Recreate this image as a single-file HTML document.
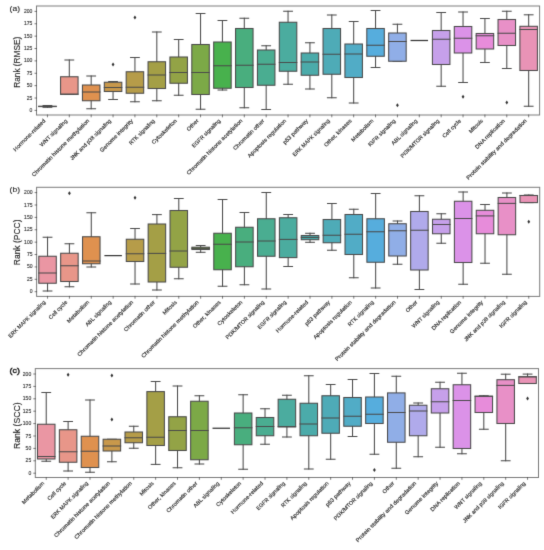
<!DOCTYPE html>
<html><head><meta charset="utf-8"><style>
html,body{margin:0;padding:0;background:#fff;}
body{width:544px;height:550px;overflow:hidden;}
svg{display:block;will-change:transform;font-family:"Liberation Sans",sans-serif;}
.yt{font-size:6.0px;text-anchor:end;fill:#2a2a2a;stroke:#2a2a2a;stroke-width:0.12px;}
.xl{font-size:5.5px;text-anchor:end;fill:#262626;stroke:#262626;stroke-width:0.15px;}
.yl{font-size:8.2px;text-anchor:middle;fill:#1a1a1a;stroke:#1a1a1a;stroke-width:0.12px;}
.pl{font-size:7.8px;fill:#1a1a1a;stroke:#1a1a1a;stroke-width:0.1px;}
g{stroke:#4a4a4a;stroke-width:1.05;stroke-linecap:square;}
</style></head><body>
<svg width="544" height="550" viewBox="0 0 544 550">
<defs><filter id="bl" x="-10" y="-10" width="564" height="570" filterUnits="userSpaceOnUse" color-interpolation-filters="sRGB"><feConvolveMatrix order="3" kernelMatrix="0.0113 0.0838 0.0113 0.0838 0.6193 0.0838 0.0113 0.0838 0.0113" edgeMode="duplicate"/></filter></defs>
<rect width="544" height="550" fill="#fff"/>
<g filter="url(#bl)">
<g><line x1="47.44" y1="105.5" x2="47.44" y2="106.3" /><line x1="43.06" y1="105.5" x2="51.81" y2="105.5" /><line x1="47.44" y1="106.5" x2="47.44" y2="107.3" /><line x1="43.06" y1="107.3" x2="51.81" y2="107.3" /><rect x="38.69" y="106.3" width="17.5" height="0.3" fill="#ea96a3" /><line x1="38.69" y1="106.4" x2="56.19" y2="106.4" /></g>
<g><line x1="69.31" y1="60" x2="69.31" y2="76.75" /><line x1="64.94" y1="60" x2="73.69" y2="60" /><line x1="64.94" y1="94.25" x2="73.69" y2="94.25" /><rect x="60.56" y="76.75" width="17.5" height="17.5" fill="#e89689" /><line x1="60.56" y1="94.25" x2="78.06" y2="94.25" /></g>
<g><line x1="91.18" y1="76" x2="91.18" y2="85" /><line x1="86.81" y1="76" x2="95.56" y2="76" /><line x1="91.18" y1="100.75" x2="91.18" y2="108.75" /><line x1="86.81" y1="108.75" x2="95.56" y2="108.75" /><rect x="82.44" y="85" width="17.5" height="15.75" fill="#df914f" /><line x1="82.44" y1="92" x2="99.93" y2="92" /></g>
<g><line x1="113.06" y1="81.5" x2="113.06" y2="82.25" /><line x1="108.68" y1="81.5" x2="117.43" y2="81.5" /><line x1="113.06" y1="91.5" x2="113.06" y2="99.5" /><line x1="108.68" y1="99.5" x2="117.43" y2="99.5" /><rect x="104.31" y="82.25" width="17.5" height="9.25" fill="#c8984b" /><line x1="104.31" y1="87.5" x2="121.81" y2="87.5" /><path d="M113.06 62.5L114.46 64.5L113.06 66.5L111.66 64.5Z" fill="#333" stroke="none"/></g>
<g><line x1="134.93" y1="57.5" x2="134.93" y2="71.75" /><line x1="130.56" y1="57.5" x2="139.31" y2="57.5" /><line x1="134.93" y1="93.25" x2="134.93" y2="101.75" /><line x1="130.56" y1="101.75" x2="139.31" y2="101.75" /><rect x="126.18" y="71.75" width="17.5" height="21.5" fill="#b69c49" /><line x1="126.18" y1="87.25" x2="143.68" y2="87.25" /><path d="M134.93 15.5L136.33 17.5L134.93 19.5L133.53 17.5Z" fill="#333" stroke="none"/></g>
<g><line x1="156.81" y1="32" x2="156.81" y2="61.75" /><line x1="152.43" y1="32" x2="161.18" y2="32" /><line x1="156.81" y1="88.5" x2="156.81" y2="100.75" /><line x1="152.43" y1="100.75" x2="161.18" y2="100.75" /><rect x="148.06" y="61.75" width="17.5" height="26.75" fill="#a49f46" /><line x1="148.06" y1="75" x2="165.56" y2="75" /></g>
<g><line x1="178.68" y1="39.5" x2="178.68" y2="57" /><line x1="174.31" y1="39.5" x2="183.06" y2="39.5" /><line x1="178.68" y1="83.25" x2="178.68" y2="95.25" /><line x1="174.31" y1="95.25" x2="183.06" y2="95.25" /><rect x="169.93" y="57" width="17.5" height="26.25" fill="#93a346" /><line x1="169.93" y1="72.5" x2="187.43" y2="72.5" /></g>
<g><line x1="200.55" y1="13.5" x2="200.55" y2="44.5" /><line x1="196.18" y1="13.5" x2="204.93" y2="13.5" /><line x1="200.55" y1="94.5" x2="200.55" y2="109.25" /><line x1="196.18" y1="109.25" x2="204.93" y2="109.25" /><rect x="191.8" y="44.5" width="17.5" height="50" fill="#7ca947" /><line x1="191.8" y1="72.5" x2="209.3" y2="72.5" /></g>
<g><line x1="222.43" y1="20.5" x2="222.43" y2="42" /><line x1="218.05" y1="20.5" x2="226.8" y2="20.5" /><line x1="222.43" y1="88.25" x2="222.43" y2="90" /><line x1="218.05" y1="90" x2="226.8" y2="90" /><rect x="213.68" y="42" width="17.5" height="46.25" fill="#48b14d" /><line x1="213.68" y1="65.75" x2="231.18" y2="65.75" /></g>
<g><line x1="244.3" y1="18.25" x2="244.3" y2="28.5" /><line x1="239.93" y1="18.25" x2="248.68" y2="18.25" /><line x1="244.3" y1="87.5" x2="244.3" y2="107.75" /><line x1="239.93" y1="107.75" x2="248.68" y2="107.75" /><rect x="235.55" y="28.5" width="17.5" height="59" fill="#49ae7e" /><line x1="235.55" y1="65.25" x2="253.05" y2="65.25" /></g>
<g><line x1="266.18" y1="45.75" x2="266.18" y2="50" /><line x1="261.8" y1="45.75" x2="270.55" y2="45.75" /><line x1="266.18" y1="85.25" x2="266.18" y2="109.5" /><line x1="261.8" y1="109.5" x2="270.55" y2="109.5" /><rect x="257.43" y="50" width="17.5" height="35.25" fill="#4aad91" /><line x1="257.43" y1="64.25" x2="274.93" y2="64.25" /></g>
<g><line x1="288.05" y1="11.25" x2="288.05" y2="22.25" /><line x1="283.68" y1="11.25" x2="292.42" y2="11.25" /><line x1="288.05" y1="71.25" x2="288.05" y2="84.25" /><line x1="283.68" y1="84.25" x2="292.42" y2="84.25" /><rect x="279.3" y="22.25" width="17.5" height="49" fill="#4bac9f" /><line x1="279.3" y1="62.5" x2="296.8" y2="62.5" /></g>
<g><line x1="309.92" y1="42.75" x2="309.92" y2="53" /><line x1="305.55" y1="42.75" x2="314.3" y2="42.75" /><line x1="309.92" y1="75.25" x2="309.92" y2="89" /><line x1="305.55" y1="89" x2="314.3" y2="89" /><rect x="301.17" y="53" width="17.5" height="22.25" fill="#4babaa" /><line x1="301.17" y1="62" x2="318.67" y2="62" /></g>
<g><line x1="331.8" y1="15" x2="331.8" y2="28.5" /><line x1="327.42" y1="15" x2="336.17" y2="15" /><line x1="331.8" y1="74.25" x2="331.8" y2="97.75" /><line x1="327.42" y1="97.75" x2="336.17" y2="97.75" /><rect x="323.05" y="28.5" width="17.5" height="45.75" fill="#4eabb7" /><line x1="323.05" y1="54.25" x2="340.55" y2="54.25" /></g>
<g><line x1="353.67" y1="21.5" x2="353.67" y2="44" /><line x1="349.3" y1="21.5" x2="358.05" y2="21.5" /><line x1="353.67" y1="77.5" x2="353.67" y2="103" /><line x1="349.3" y1="103" x2="358.05" y2="103" /><rect x="344.92" y="44" width="17.5" height="33.5" fill="#51acc6" /><line x1="344.92" y1="54" x2="362.42" y2="54" /></g>
<g><line x1="375.55" y1="10.5" x2="375.55" y2="28.5" /><line x1="371.17" y1="10.5" x2="379.92" y2="10.5" /><line x1="375.55" y1="56.25" x2="375.55" y2="67.5" /><line x1="371.17" y1="67.5" x2="379.92" y2="67.5" /><rect x="366.8" y="28.5" width="17.5" height="27.75" fill="#56addd" /><line x1="366.8" y1="45.25" x2="384.3" y2="45.25" /></g>
<g><line x1="397.42" y1="24.25" x2="397.42" y2="33" /><line x1="393.04" y1="24.25" x2="401.79" y2="24.25" /><line x1="393.04" y1="61.25" x2="401.79" y2="61.25" /><rect x="388.67" y="33" width="17.5" height="28.25" fill="#90aee7" /><line x1="388.67" y1="41.5" x2="406.17" y2="41.5" /><path d="M397.42 103.25L398.82 105.25L397.42 107.25L396.02 105.25Z" fill="#333" stroke="none"/></g>
<g><line x1="410.54" y1="40.5" x2="428.04" y2="40.5" stroke-width="1.25" stroke="#333" stroke-linecap="butt"/></g>
<g><line x1="441.17" y1="12.5" x2="441.17" y2="30.5" /><line x1="436.79" y1="12.5" x2="445.54" y2="12.5" /><line x1="441.17" y1="64.5" x2="441.17" y2="86.25" /><line x1="436.79" y1="86.25" x2="445.54" y2="86.25" /><rect x="432.42" y="30.5" width="17.5" height="34" fill="#c6a0ea" /><line x1="432.42" y1="39.25" x2="449.92" y2="39.25" /></g>
<g><line x1="463.04" y1="12" x2="463.04" y2="26.5" /><line x1="458.67" y1="12" x2="467.42" y2="12" /><line x1="463.04" y1="53" x2="463.04" y2="82.5" /><line x1="458.67" y1="82.5" x2="467.42" y2="82.5" /><rect x="454.29" y="26.5" width="17.5" height="26.5" fill="#db92e8" /><line x1="454.29" y1="38.25" x2="471.79" y2="38.25" /><path d="M463.04 94.75L464.44 96.75L463.04 98.75L461.64 96.75Z" fill="#333" stroke="none"/></g>
<g><line x1="484.92" y1="18.5" x2="484.92" y2="33.5" /><line x1="480.54" y1="18.5" x2="489.29" y2="18.5" /><line x1="484.92" y1="49" x2="484.92" y2="62.5" /><line x1="480.54" y1="62.5" x2="489.29" y2="62.5" /><rect x="476.17" y="33.5" width="17.5" height="15.5" fill="#e78cda" /><line x1="476.17" y1="35.75" x2="493.66" y2="35.75" /></g>
<g><line x1="506.79" y1="11.25" x2="506.79" y2="19.5" /><line x1="502.41" y1="11.25" x2="511.16" y2="11.25" /><line x1="506.79" y1="45.5" x2="506.79" y2="68.5" /><line x1="502.41" y1="68.5" x2="511.16" y2="68.5" /><rect x="498.04" y="19.5" width="17.5" height="26" fill="#e890c7" /><line x1="498.04" y1="33.25" x2="515.54" y2="33.25" /><path d="M506.79 100.5L508.19 102.5L506.79 104.5L505.39 102.5Z" fill="#333" stroke="none"/></g>
<g><line x1="528.66" y1="14.8" x2="528.66" y2="26.3" /><line x1="524.29" y1="14.8" x2="533.04" y2="14.8" /><line x1="528.66" y1="70.5" x2="528.66" y2="106.25" /><line x1="524.29" y1="106.25" x2="533.04" y2="106.25" /><rect x="519.91" y="26.3" width="17.5" height="44.2" fill="#e993b6" /><line x1="519.91" y1="29.5" x2="537.41" y2="29.5" /></g>
<rect x="36.5" y="6" width="503.1" height="109" fill="none" stroke="#7a7a7a" stroke-width="1.0"/>
<line x1="35" y1="110.4" x2="36.5" y2="110.4" stroke="#444" stroke-width="0.7"/>
<text x="32.4" y="111.96" class="yt" textLength="2.8" lengthAdjust="spacingAndGlyphs">0</text>
<line x1="35" y1="98.03" x2="36.5" y2="98.03" stroke="#444" stroke-width="0.7"/>
<text x="32.4" y="99.59" class="yt" textLength="5.6" lengthAdjust="spacingAndGlyphs">25</text>
<line x1="35" y1="85.65" x2="36.5" y2="85.65" stroke="#444" stroke-width="0.7"/>
<text x="32.4" y="87.21" class="yt" textLength="5.6" lengthAdjust="spacingAndGlyphs">50</text>
<line x1="35" y1="73.28" x2="36.5" y2="73.28" stroke="#444" stroke-width="0.7"/>
<text x="32.4" y="74.84" class="yt" textLength="5.6" lengthAdjust="spacingAndGlyphs">75</text>
<line x1="35" y1="60.9" x2="36.5" y2="60.9" stroke="#444" stroke-width="0.7"/>
<text x="32.4" y="62.46" class="yt" textLength="8.4" lengthAdjust="spacingAndGlyphs">100</text>
<line x1="35" y1="48.53" x2="36.5" y2="48.53" stroke="#444" stroke-width="0.7"/>
<text x="32.4" y="50.09" class="yt" textLength="8.4" lengthAdjust="spacingAndGlyphs">125</text>
<line x1="35" y1="36.15" x2="36.5" y2="36.15" stroke="#444" stroke-width="0.7"/>
<text x="32.4" y="37.71" class="yt" textLength="8.4" lengthAdjust="spacingAndGlyphs">150</text>
<line x1="35" y1="23.78" x2="36.5" y2="23.78" stroke="#444" stroke-width="0.7"/>
<text x="32.4" y="25.34" class="yt" textLength="8.4" lengthAdjust="spacingAndGlyphs">175</text>
<line x1="35" y1="11.4" x2="36.5" y2="11.4" stroke="#444" stroke-width="0.7"/>
<text x="32.4" y="12.96" class="yt" textLength="8.4" lengthAdjust="spacingAndGlyphs">200</text>
<line x1="47.44" y1="115" x2="47.44" y2="116.8" stroke="#444" stroke-width="0.7"/>
<text transform="translate(45.86 121.25) rotate(-45)" class="xl" textLength="42.97" lengthAdjust="spacingAndGlyphs">Hormone-related</text>
<line x1="69.31" y1="115" x2="69.31" y2="116.8" stroke="#444" stroke-width="0.7"/>
<text transform="translate(67.74 121.25) rotate(-45)" class="xl" textLength="36.29" lengthAdjust="spacingAndGlyphs">WNT signaling</text>
<line x1="91.18" y1="115" x2="91.18" y2="116.8" stroke="#444" stroke-width="0.7"/>
<text transform="translate(89.61 121.25) rotate(-45)" class="xl" textLength="78.69" lengthAdjust="spacingAndGlyphs">Chromatin histone methylation</text>
<line x1="113.06" y1="115" x2="113.06" y2="116.8" stroke="#444" stroke-width="0.7"/>
<text transform="translate(111.49 121.25) rotate(-45)" class="xl" textLength="55.41" lengthAdjust="spacingAndGlyphs">JNK and p38 signaling</text>
<line x1="134.93" y1="115" x2="134.93" y2="116.8" stroke="#444" stroke-width="0.7"/>
<text transform="translate(133.36 121.25) rotate(-45)" class="xl" textLength="44.36" lengthAdjust="spacingAndGlyphs">Genome integrity</text>
<line x1="156.81" y1="115" x2="156.81" y2="116.8" stroke="#444" stroke-width="0.7"/>
<text transform="translate(155.23 121.25) rotate(-45)" class="xl" textLength="33.96" lengthAdjust="spacingAndGlyphs">RTK signaling</text>
<line x1="178.68" y1="115" x2="178.68" y2="116.8" stroke="#444" stroke-width="0.7"/>
<text transform="translate(177.11 121.25) rotate(-45)" class="xl" textLength="32.88" lengthAdjust="spacingAndGlyphs">Cytoskeleton</text>
<line x1="200.55" y1="115" x2="200.55" y2="116.8" stroke="#444" stroke-width="0.7"/>
<text transform="translate(198.98 121.25) rotate(-45)" class="xl" textLength="14.37" lengthAdjust="spacingAndGlyphs">Other</text>
<line x1="222.43" y1="115" x2="222.43" y2="116.8" stroke="#444" stroke-width="0.7"/>
<text transform="translate(220.86 121.25) rotate(-45)" class="xl" textLength="37.94" lengthAdjust="spacingAndGlyphs">EGFR signaling</text>
<line x1="244.3" y1="115" x2="244.3" y2="116.8" stroke="#444" stroke-width="0.7"/>
<text transform="translate(242.73 121.25) rotate(-45)" class="xl" textLength="76.44" lengthAdjust="spacingAndGlyphs">Chromatin histone acetylation</text>
<line x1="266.18" y1="115" x2="266.18" y2="116.8" stroke="#444" stroke-width="0.7"/>
<text transform="translate(264.6 121.25) rotate(-45)" class="xl" textLength="41.52" lengthAdjust="spacingAndGlyphs">Chromatin other</text>
<line x1="288.05" y1="115" x2="288.05" y2="116.8" stroke="#444" stroke-width="0.7"/>
<text transform="translate(286.48 121.25) rotate(-45)" class="xl" textLength="52.04" lengthAdjust="spacingAndGlyphs">Apoptosis regulation</text>
<line x1="309.92" y1="115" x2="309.92" y2="116.8" stroke="#444" stroke-width="0.7"/>
<text transform="translate(308.35 121.25) rotate(-45)" class="xl" textLength="33.01" lengthAdjust="spacingAndGlyphs">p53 pathway</text>
<line x1="331.8" y1="115" x2="331.8" y2="116.8" stroke="#444" stroke-width="0.7"/>
<text transform="translate(330.23 121.25) rotate(-45)" class="xl" textLength="50.24" lengthAdjust="spacingAndGlyphs">ERK MAPK signaling</text>
<line x1="353.67" y1="115" x2="353.67" y2="116.8" stroke="#444" stroke-width="0.7"/>
<text transform="translate(352.1 121.25) rotate(-45)" class="xl" textLength="36.6" lengthAdjust="spacingAndGlyphs">Other, kinases</text>
<line x1="375.55" y1="115" x2="375.55" y2="116.8" stroke="#444" stroke-width="0.7"/>
<text transform="translate(373.97 121.25) rotate(-45)" class="xl" textLength="29.25" lengthAdjust="spacingAndGlyphs">Metabolism</text>
<line x1="397.42" y1="115" x2="397.42" y2="116.8" stroke="#444" stroke-width="0.7"/>
<text transform="translate(395.85 121.25) rotate(-45)" class="xl" textLength="36.24" lengthAdjust="spacingAndGlyphs">IGFR signaling</text>
<line x1="419.29" y1="115" x2="419.29" y2="116.8" stroke="#444" stroke-width="0.7"/>
<text transform="translate(417.72 121.25) rotate(-45)" class="xl" textLength="34.15" lengthAdjust="spacingAndGlyphs">ABL signaling</text>
<line x1="441.17" y1="115" x2="441.17" y2="116.8" stroke="#444" stroke-width="0.7"/>
<text transform="translate(439.6 121.25) rotate(-45)" class="xl" textLength="52.16" lengthAdjust="spacingAndGlyphs">PI3K/MTOR signaling</text>
<line x1="463.04" y1="115" x2="463.04" y2="116.8" stroke="#444" stroke-width="0.7"/>
<text transform="translate(461.47 121.25) rotate(-45)" class="xl" textLength="24.14" lengthAdjust="spacingAndGlyphs">Cell cycle</text>
<line x1="484.92" y1="115" x2="484.92" y2="116.8" stroke="#444" stroke-width="0.7"/>
<text transform="translate(483.34 121.25) rotate(-45)" class="xl" textLength="17.51" lengthAdjust="spacingAndGlyphs">Mitosis</text>
<line x1="506.79" y1="115" x2="506.79" y2="116.8" stroke="#444" stroke-width="0.7"/>
<text transform="translate(505.22 121.25) rotate(-45)" class="xl" textLength="39.44" lengthAdjust="spacingAndGlyphs">DNA replication</text>
<line x1="528.66" y1="115" x2="528.66" y2="116.8" stroke="#444" stroke-width="0.7"/>
<text transform="translate(527.09 121.25) rotate(-45)" class="xl" textLength="82.93" lengthAdjust="spacingAndGlyphs">Protein stability and degradation</text>
<text transform="translate(20.3 62.25) rotate(-90)" class="yl" textLength="51.06" lengthAdjust="spacingAndGlyphs">Rank (RMSE)</text>
<text x="9.6" y="10.7" class="pl"  textLength="10.4" lengthAdjust="spacingAndGlyphs">(a)</text>
<g><line x1="47.54" y1="237.25" x2="47.54" y2="256.25" /><line x1="43.16" y1="237.25" x2="51.91" y2="237.25" /><line x1="47.54" y1="283.25" x2="47.54" y2="291" /><line x1="43.16" y1="291" x2="51.91" y2="291" /><rect x="38.79" y="256.25" width="17.5" height="27" fill="#ea96a3" /><line x1="38.79" y1="273" x2="56.29" y2="273" /></g>
<g><line x1="69.41" y1="243.75" x2="69.41" y2="253.25" /><line x1="65.04" y1="243.75" x2="73.79" y2="243.75" /><line x1="69.41" y1="281.5" x2="69.41" y2="286.75" /><line x1="65.04" y1="286.75" x2="73.79" y2="286.75" /><rect x="60.66" y="253.25" width="17.5" height="28.25" fill="#e89689" /><line x1="60.66" y1="265.75" x2="78.16" y2="265.75" /><path d="M69.41 191.25L70.81 193.25L69.41 195.25L68.01 193.25Z" fill="#333" stroke="none"/></g>
<g><line x1="91.28" y1="212.75" x2="91.28" y2="236.75" /><line x1="86.91" y1="212.75" x2="95.66" y2="212.75" /><line x1="91.28" y1="263.75" x2="91.28" y2="267" /><line x1="86.91" y1="267" x2="95.66" y2="267" /><rect x="82.54" y="236.75" width="17.5" height="27" fill="#df914f" /><line x1="82.54" y1="261" x2="100.03" y2="261" /></g>
<g><line x1="104.41" y1="255.6" x2="121.91" y2="255.6" stroke-width="1.25" stroke="#333" stroke-linecap="butt"/></g>
<g><line x1="135.03" y1="228.5" x2="135.03" y2="239.25" /><line x1="130.66" y1="228.5" x2="139.41" y2="228.5" /><line x1="135.03" y1="261.5" x2="135.03" y2="284" /><line x1="130.66" y1="284" x2="139.41" y2="284" /><rect x="126.28" y="239.25" width="17.5" height="22.25" fill="#b69c49" /><line x1="126.28" y1="253.75" x2="143.78" y2="253.75" /><path d="M135.03 195.75L136.43 197.75L135.03 199.75L133.63 197.75Z" fill="#333" stroke="none"/></g>
<g><line x1="156.91" y1="214.6" x2="156.91" y2="224" /><line x1="152.53" y1="214.6" x2="161.28" y2="214.6" /><line x1="156.91" y1="282" x2="156.91" y2="290" /><line x1="152.53" y1="290" x2="161.28" y2="290" /><rect x="148.16" y="224" width="17.5" height="58" fill="#a49f46" /><line x1="148.16" y1="253.4" x2="165.66" y2="253.4" /></g>
<g><line x1="178.78" y1="198.5" x2="178.78" y2="210.5" /><line x1="174.41" y1="198.5" x2="183.16" y2="198.5" /><line x1="178.78" y1="267.25" x2="178.78" y2="278.75" /><line x1="174.41" y1="278.75" x2="183.16" y2="278.75" /><rect x="170.03" y="210.5" width="17.5" height="56.75" fill="#93a346" /><line x1="170.03" y1="251" x2="187.53" y2="251" /></g>
<g><line x1="200.65" y1="245.5" x2="200.65" y2="247.2" /><line x1="196.28" y1="245.5" x2="205.03" y2="245.5" /><line x1="200.65" y1="249.5" x2="200.65" y2="252.3" /><line x1="196.28" y1="252.3" x2="205.03" y2="252.3" /><rect x="191.9" y="247.2" width="17.5" height="2.3" fill="#7ca947" /><line x1="191.9" y1="248.3" x2="209.4" y2="248.3" /></g>
<g><line x1="222.53" y1="199.5" x2="222.53" y2="233.25" /><line x1="218.15" y1="199.5" x2="226.9" y2="199.5" /><line x1="222.53" y1="269.75" x2="222.53" y2="286.25" /><line x1="218.15" y1="286.25" x2="226.9" y2="286.25" /><rect x="213.78" y="233.25" width="17.5" height="36.5" fill="#48b14d" /><line x1="213.78" y1="244.25" x2="231.28" y2="244.25" /></g>
<g><line x1="244.4" y1="212.5" x2="244.4" y2="227.25" /><line x1="240.03" y1="212.5" x2="248.78" y2="212.5" /><line x1="244.4" y1="266.75" x2="244.4" y2="284.75" /><line x1="240.03" y1="284.75" x2="248.78" y2="284.75" /><rect x="235.65" y="227.25" width="17.5" height="39.5" fill="#49ae7e" /><line x1="235.65" y1="242" x2="253.15" y2="242" /></g>
<g><line x1="266.28" y1="192.5" x2="266.28" y2="218.75" /><line x1="261.9" y1="192.5" x2="270.65" y2="192.5" /><line x1="266.28" y1="256.25" x2="266.28" y2="289" /><line x1="261.9" y1="289" x2="270.65" y2="289" /><rect x="257.53" y="218.75" width="17.5" height="37.5" fill="#4aad91" /><line x1="257.53" y1="241" x2="275.03" y2="241" /></g>
<g><line x1="288.15" y1="214.5" x2="288.15" y2="217.75" /><line x1="283.78" y1="214.5" x2="292.52" y2="214.5" /><line x1="288.15" y1="257.6" x2="288.15" y2="266.5" /><line x1="283.78" y1="266.5" x2="292.52" y2="266.5" /><rect x="279.4" y="217.75" width="17.5" height="39.85" fill="#4bac9f" /><line x1="279.4" y1="239.4" x2="296.9" y2="239.4" /></g>
<g><line x1="310.02" y1="233.3" x2="310.02" y2="235.5" /><line x1="305.65" y1="233.3" x2="314.4" y2="233.3" /><line x1="310.02" y1="239.7" x2="310.02" y2="242.3" /><line x1="305.65" y1="242.3" x2="314.4" y2="242.3" /><rect x="301.27" y="235.5" width="17.5" height="4.2" fill="#4babaa" /><line x1="301.27" y1="237.4" x2="318.77" y2="237.4" /></g>
<g><line x1="331.9" y1="203.5" x2="331.9" y2="219.5" /><line x1="327.52" y1="203.5" x2="336.27" y2="203.5" /><line x1="331.9" y1="242.75" x2="331.9" y2="250.25" /><line x1="327.52" y1="250.25" x2="336.27" y2="250.25" /><rect x="323.15" y="219.5" width="17.5" height="23.25" fill="#4eabb7" /><line x1="323.15" y1="235.25" x2="340.65" y2="235.25" /></g>
<g><line x1="353.77" y1="209.25" x2="353.77" y2="214.5" /><line x1="349.4" y1="209.25" x2="358.15" y2="209.25" /><line x1="353.77" y1="254.5" x2="353.77" y2="277.75" /><line x1="349.4" y1="277.75" x2="358.15" y2="277.75" /><rect x="345.02" y="214.5" width="17.5" height="40" fill="#51acc6" /><line x1="345.02" y1="234.25" x2="362.52" y2="234.25" /></g>
<g><line x1="375.65" y1="193.5" x2="375.65" y2="218.75" /><line x1="371.27" y1="193.5" x2="380.02" y2="193.5" /><line x1="375.65" y1="262.25" x2="375.65" y2="288" /><line x1="371.27" y1="288" x2="380.02" y2="288" /><rect x="366.9" y="218.75" width="17.5" height="43.5" fill="#56addd" /><line x1="366.9" y1="231.75" x2="384.4" y2="231.75" /></g>
<g><line x1="397.52" y1="221" x2="397.52" y2="223.75" /><line x1="393.14" y1="221" x2="401.89" y2="221" /><line x1="397.52" y1="256" x2="397.52" y2="264.25" /><line x1="393.14" y1="264.25" x2="401.89" y2="264.25" /><rect x="388.77" y="223.75" width="17.5" height="32.25" fill="#90aee7" /><line x1="388.77" y1="230.75" x2="406.27" y2="230.75" /></g>
<g><line x1="419.39" y1="195.75" x2="419.39" y2="211.5" /><line x1="415.02" y1="195.75" x2="423.77" y2="195.75" /><line x1="419.39" y1="270" x2="419.39" y2="289.5" /><line x1="415.02" y1="289.5" x2="423.77" y2="289.5" /><rect x="410.64" y="211.5" width="17.5" height="58.5" fill="#b0aaeb" /><line x1="410.64" y1="230.25" x2="428.14" y2="230.25" /></g>
<g><line x1="441.27" y1="213.75" x2="441.27" y2="219.25" /><line x1="436.89" y1="213.75" x2="445.64" y2="213.75" /><line x1="441.27" y1="233.75" x2="441.27" y2="243.25" /><line x1="436.89" y1="243.25" x2="445.64" y2="243.25" /><rect x="432.52" y="219.25" width="17.5" height="14.5" fill="#c6a0ea" /><line x1="432.52" y1="224.5" x2="450.02" y2="224.5" /></g>
<g><line x1="463.14" y1="192" x2="463.14" y2="201.25" /><line x1="458.77" y1="192" x2="467.52" y2="192" /><line x1="463.14" y1="262.5" x2="463.14" y2="284.25" /><line x1="458.77" y1="284.25" x2="467.52" y2="284.25" /><rect x="454.39" y="201.25" width="17.5" height="61.25" fill="#db92e8" /><line x1="454.39" y1="218.5" x2="471.89" y2="218.5" /></g>
<g><line x1="485.02" y1="204.5" x2="485.02" y2="210.3" /><line x1="480.64" y1="204.5" x2="489.39" y2="204.5" /><line x1="485.02" y1="233.75" x2="485.02" y2="263.25" /><line x1="480.64" y1="263.25" x2="489.39" y2="263.25" /><rect x="476.27" y="210.3" width="17.5" height="23.45" fill="#e78cda" /><line x1="476.27" y1="215.9" x2="493.76" y2="215.9" /></g>
<g><line x1="506.89" y1="193" x2="506.89" y2="197.5" /><line x1="502.51" y1="193" x2="511.26" y2="193" /><line x1="506.89" y1="234.75" x2="506.89" y2="274.25" /><line x1="502.51" y1="274.25" x2="511.26" y2="274.25" /><rect x="498.14" y="197.5" width="17.5" height="37.25" fill="#e890c7" /><line x1="498.14" y1="203.4" x2="515.64" y2="203.4" /></g>
<g><line x1="528.76" y1="195" x2="528.76" y2="195.5" /><line x1="524.39" y1="195" x2="533.14" y2="195" /><line x1="524.39" y1="202.6" x2="533.14" y2="202.6" /><rect x="520.01" y="195.5" width="17.5" height="7.1" fill="#e993b6" /><line x1="520.01" y1="195.5" x2="537.51" y2="195.5" /><path d="M528.76 219.75L530.16 221.75L528.76 223.75L527.36 221.75Z" fill="#333" stroke="none"/></g>
<rect x="36.6" y="187.3" width="503.1" height="109.1" fill="none" stroke="#7a7a7a" stroke-width="1.0"/>
<line x1="35.1" y1="291.7" x2="36.6" y2="291.7" stroke="#444" stroke-width="0.7"/>
<text x="32.5" y="293.26" class="yt" textLength="2.8" lengthAdjust="spacingAndGlyphs">0</text>
<line x1="35.1" y1="279.31" x2="36.6" y2="279.31" stroke="#444" stroke-width="0.7"/>
<text x="32.5" y="280.87" class="yt" textLength="5.6" lengthAdjust="spacingAndGlyphs">25</text>
<line x1="35.1" y1="266.93" x2="36.6" y2="266.93" stroke="#444" stroke-width="0.7"/>
<text x="32.5" y="268.49" class="yt" textLength="5.6" lengthAdjust="spacingAndGlyphs">50</text>
<line x1="35.1" y1="254.54" x2="36.6" y2="254.54" stroke="#444" stroke-width="0.7"/>
<text x="32.5" y="256.1" class="yt" textLength="5.6" lengthAdjust="spacingAndGlyphs">75</text>
<line x1="35.1" y1="242.15" x2="36.6" y2="242.15" stroke="#444" stroke-width="0.7"/>
<text x="32.5" y="243.71" class="yt" textLength="8.4" lengthAdjust="spacingAndGlyphs">100</text>
<line x1="35.1" y1="229.76" x2="36.6" y2="229.76" stroke="#444" stroke-width="0.7"/>
<text x="32.5" y="231.32" class="yt" textLength="8.4" lengthAdjust="spacingAndGlyphs">125</text>
<line x1="35.1" y1="217.38" x2="36.6" y2="217.38" stroke="#444" stroke-width="0.7"/>
<text x="32.5" y="218.94" class="yt" textLength="8.4" lengthAdjust="spacingAndGlyphs">150</text>
<line x1="35.1" y1="204.99" x2="36.6" y2="204.99" stroke="#444" stroke-width="0.7"/>
<text x="32.5" y="206.55" class="yt" textLength="8.4" lengthAdjust="spacingAndGlyphs">175</text>
<line x1="35.1" y1="192.6" x2="36.6" y2="192.6" stroke="#444" stroke-width="0.7"/>
<text x="32.5" y="194.16" class="yt" textLength="8.4" lengthAdjust="spacingAndGlyphs">200</text>
<line x1="47.54" y1="296.4" x2="47.54" y2="298.2" stroke="#444" stroke-width="0.7"/>
<text transform="translate(45.96 302.65) rotate(-45)" class="xl" textLength="50.24" lengthAdjust="spacingAndGlyphs">ERK MAPK signaling</text>
<line x1="69.41" y1="296.4" x2="69.41" y2="298.2" stroke="#444" stroke-width="0.7"/>
<text transform="translate(67.84 302.65) rotate(-45)" class="xl" textLength="24.14" lengthAdjust="spacingAndGlyphs">Cell cycle</text>
<line x1="91.28" y1="296.4" x2="91.28" y2="298.2" stroke="#444" stroke-width="0.7"/>
<text transform="translate(89.71 302.65) rotate(-45)" class="xl" textLength="29.25" lengthAdjust="spacingAndGlyphs">Metabolism</text>
<line x1="113.16" y1="296.4" x2="113.16" y2="298.2" stroke="#444" stroke-width="0.7"/>
<text transform="translate(111.59 302.65) rotate(-45)" class="xl" textLength="34.15" lengthAdjust="spacingAndGlyphs">ABL signaling</text>
<line x1="135.03" y1="296.4" x2="135.03" y2="298.2" stroke="#444" stroke-width="0.7"/>
<text transform="translate(133.46 302.65) rotate(-45)" class="xl" textLength="76.44" lengthAdjust="spacingAndGlyphs">Chromatin histone acetylation</text>
<line x1="156.91" y1="296.4" x2="156.91" y2="298.2" stroke="#444" stroke-width="0.7"/>
<text transform="translate(155.33 302.65) rotate(-45)" class="xl" textLength="41.52" lengthAdjust="spacingAndGlyphs">Chromatin other</text>
<line x1="178.78" y1="296.4" x2="178.78" y2="298.2" stroke="#444" stroke-width="0.7"/>
<text transform="translate(177.21 302.65) rotate(-45)" class="xl" textLength="17.51" lengthAdjust="spacingAndGlyphs">Mitosis</text>
<line x1="200.65" y1="296.4" x2="200.65" y2="298.2" stroke="#444" stroke-width="0.7"/>
<text transform="translate(199.08 302.65) rotate(-45)" class="xl" textLength="78.69" lengthAdjust="spacingAndGlyphs">Chromatin histone methylation</text>
<line x1="222.53" y1="296.4" x2="222.53" y2="298.2" stroke="#444" stroke-width="0.7"/>
<text transform="translate(220.96 302.65) rotate(-45)" class="xl" textLength="36.6" lengthAdjust="spacingAndGlyphs">Other, kinases</text>
<line x1="244.4" y1="296.4" x2="244.4" y2="298.2" stroke="#444" stroke-width="0.7"/>
<text transform="translate(242.83 302.65) rotate(-45)" class="xl" textLength="32.88" lengthAdjust="spacingAndGlyphs">Cytoskeleton</text>
<line x1="266.28" y1="296.4" x2="266.28" y2="298.2" stroke="#444" stroke-width="0.7"/>
<text transform="translate(264.7 302.65) rotate(-45)" class="xl" textLength="52.16" lengthAdjust="spacingAndGlyphs">PI3K/MTOR signaling</text>
<line x1="288.15" y1="296.4" x2="288.15" y2="298.2" stroke="#444" stroke-width="0.7"/>
<text transform="translate(286.58 302.65) rotate(-45)" class="xl" textLength="37.94" lengthAdjust="spacingAndGlyphs">EGFR signaling</text>
<line x1="310.02" y1="296.4" x2="310.02" y2="298.2" stroke="#444" stroke-width="0.7"/>
<text transform="translate(308.45 302.65) rotate(-45)" class="xl" textLength="42.97" lengthAdjust="spacingAndGlyphs">Hormone-related</text>
<line x1="331.9" y1="296.4" x2="331.9" y2="298.2" stroke="#444" stroke-width="0.7"/>
<text transform="translate(330.33 302.65) rotate(-45)" class="xl" textLength="33.01" lengthAdjust="spacingAndGlyphs">p53 pathway</text>
<line x1="353.77" y1="296.4" x2="353.77" y2="298.2" stroke="#444" stroke-width="0.7"/>
<text transform="translate(352.2 302.65) rotate(-45)" class="xl" textLength="52.04" lengthAdjust="spacingAndGlyphs">Apoptosis regulation</text>
<line x1="375.65" y1="296.4" x2="375.65" y2="298.2" stroke="#444" stroke-width="0.7"/>
<text transform="translate(374.07 302.65) rotate(-45)" class="xl" textLength="33.96" lengthAdjust="spacingAndGlyphs">RTK signaling</text>
<line x1="397.52" y1="296.4" x2="397.52" y2="298.2" stroke="#444" stroke-width="0.7"/>
<text transform="translate(395.95 302.65) rotate(-45)" class="xl" textLength="82.93" lengthAdjust="spacingAndGlyphs">Protein stability and degradation</text>
<line x1="419.39" y1="296.4" x2="419.39" y2="298.2" stroke="#444" stroke-width="0.7"/>
<text transform="translate(417.82 302.65) rotate(-45)" class="xl" textLength="14.37" lengthAdjust="spacingAndGlyphs">Other</text>
<line x1="441.27" y1="296.4" x2="441.27" y2="298.2" stroke="#444" stroke-width="0.7"/>
<text transform="translate(439.7 302.65) rotate(-45)" class="xl" textLength="36.29" lengthAdjust="spacingAndGlyphs">WNT signaling</text>
<line x1="463.14" y1="296.4" x2="463.14" y2="298.2" stroke="#444" stroke-width="0.7"/>
<text transform="translate(461.57 302.65) rotate(-45)" class="xl" textLength="39.44" lengthAdjust="spacingAndGlyphs">DNA replication</text>
<line x1="485.02" y1="296.4" x2="485.02" y2="298.2" stroke="#444" stroke-width="0.7"/>
<text transform="translate(483.44 302.65) rotate(-45)" class="xl" textLength="44.36" lengthAdjust="spacingAndGlyphs">Genome integrity</text>
<line x1="506.89" y1="296.4" x2="506.89" y2="298.2" stroke="#444" stroke-width="0.7"/>
<text transform="translate(505.32 302.65) rotate(-45)" class="xl" textLength="55.41" lengthAdjust="spacingAndGlyphs">JNK and p38 signaling</text>
<line x1="528.76" y1="296.4" x2="528.76" y2="298.2" stroke="#444" stroke-width="0.7"/>
<text transform="translate(527.19 302.65) rotate(-45)" class="xl" textLength="36.24" lengthAdjust="spacingAndGlyphs">IGFR signaling</text>
<text transform="translate(20.3 242.35) rotate(-90)" class="yl" textLength="45.78" lengthAdjust="spacingAndGlyphs">Rank (PCC)</text>
<text x="9.6" y="191.5" class="pl"  textLength="10.4" lengthAdjust="spacingAndGlyphs">(b)</text>
<g><line x1="46.24" y1="392.5" x2="46.24" y2="424.25" /><line x1="41.86" y1="392.5" x2="50.61" y2="392.5" /><line x1="46.24" y1="459" x2="46.24" y2="461.25" /><line x1="41.86" y1="461.25" x2="50.61" y2="461.25" /><rect x="37.49" y="424.25" width="17.5" height="34.75" fill="#ea96a3" /><line x1="37.49" y1="456.5" x2="54.99" y2="456.5" /></g>
<g><line x1="68.12" y1="421.5" x2="68.12" y2="429.75" /><line x1="63.74" y1="421.5" x2="72.49" y2="421.5" /><line x1="68.12" y1="462.25" x2="68.12" y2="471" /><line x1="63.74" y1="471" x2="72.49" y2="471" /><rect x="59.37" y="429.75" width="17.5" height="32.5" fill="#e89689" /><line x1="59.37" y1="451.75" x2="76.87" y2="451.75" /><path d="M68.12 372.75L69.52 374.75L68.12 376.75L66.72 374.75Z" fill="#333" stroke="none"/></g>
<g><line x1="90" y1="400" x2="90" y2="436.25" /><line x1="85.62" y1="400" x2="94.37" y2="400" /><line x1="90" y1="467.5" x2="90" y2="472.25" /><line x1="85.62" y1="472.25" x2="94.37" y2="472.25" /><rect x="81.24" y="436.25" width="17.5" height="31.25" fill="#df914f" /><line x1="81.24" y1="451.25" x2="98.75" y2="451.25" /></g>
<g><line x1="107.5" y1="439.25" x2="116.25" y2="439.25" /><line x1="111.87" y1="451" x2="111.87" y2="461.75" /><line x1="107.5" y1="461.75" x2="116.25" y2="461.75" /><rect x="103.12" y="439.25" width="17.5" height="11.75" fill="#c8984b" /><line x1="103.12" y1="446" x2="120.63" y2="446" /><path d="M111.87 373.5L113.27 375.5L111.87 377.5L110.47 375.5Z" fill="#333" stroke="none"/><path d="M111.87 417.5L113.27 419.5L111.87 421.5L110.47 419.5Z" fill="#333" stroke="none"/></g>
<g><line x1="133.75" y1="426.25" x2="133.75" y2="432" /><line x1="129.38" y1="426.25" x2="138.13" y2="426.25" /><line x1="133.75" y1="442.75" x2="133.75" y2="448.25" /><line x1="129.38" y1="448.25" x2="138.13" y2="448.25" /><rect x="125" y="432" width="17.5" height="10.75" fill="#b69c49" /><line x1="125" y1="437.75" x2="142.5" y2="437.75" /></g>
<g><line x1="155.63" y1="381.5" x2="155.63" y2="391.6" /><line x1="151.25" y1="381.5" x2="160.01" y2="381.5" /><line x1="155.63" y1="445.5" x2="155.63" y2="464.4" /><line x1="151.25" y1="464.4" x2="160.01" y2="464.4" /><rect x="146.88" y="391.6" width="17.5" height="53.9" fill="#a49f46" /><line x1="146.88" y1="437.25" x2="164.38" y2="437.25" /></g>
<g><line x1="177.51" y1="386" x2="177.51" y2="416.75" /><line x1="173.13" y1="386" x2="181.88" y2="386" /><line x1="177.51" y1="450.5" x2="177.51" y2="467.75" /><line x1="173.13" y1="467.75" x2="181.88" y2="467.75" /><rect x="168.76" y="416.75" width="17.5" height="33.75" fill="#93a346" /><line x1="168.76" y1="430.5" x2="186.26" y2="430.5" /></g>
<g><line x1="199.39" y1="395.75" x2="199.39" y2="401.25" /><line x1="195.01" y1="395.75" x2="203.76" y2="395.75" /><line x1="199.39" y1="459.75" x2="199.39" y2="464" /><line x1="195.01" y1="464" x2="203.76" y2="464" /><rect x="190.64" y="401.25" width="17.5" height="58.5" fill="#7ca947" /><line x1="190.64" y1="430.5" x2="208.14" y2="430.5" /></g>
<g><line x1="212.51" y1="428.25" x2="230.02" y2="428.25" stroke-width="1.25" stroke="#333" stroke-linecap="butt"/></g>
<g><line x1="243.14" y1="394.75" x2="243.14" y2="413" /><line x1="238.77" y1="394.75" x2="247.52" y2="394.75" /><line x1="243.14" y1="444.75" x2="243.14" y2="469.25" /><line x1="238.77" y1="469.25" x2="247.52" y2="469.25" /><rect x="234.39" y="413" width="17.5" height="31.75" fill="#49ae7e" /><line x1="234.39" y1="427.75" x2="251.89" y2="427.75" /></g>
<g><line x1="265.02" y1="408.75" x2="265.02" y2="417.5" /><line x1="260.65" y1="408.75" x2="269.4" y2="408.75" /><line x1="265.02" y1="435.75" x2="265.02" y2="444.25" /><line x1="260.65" y1="444.25" x2="269.4" y2="444.25" /><rect x="256.27" y="417.5" width="17.5" height="18.25" fill="#4aad91" /><line x1="256.27" y1="426.5" x2="273.77" y2="426.5" /></g>
<g><line x1="286.9" y1="395.25" x2="286.9" y2="399.25" /><line x1="282.52" y1="395.25" x2="291.28" y2="395.25" /><line x1="286.9" y1="427" x2="286.9" y2="437" /><line x1="282.52" y1="437" x2="291.28" y2="437" /><rect x="278.15" y="399.25" width="17.5" height="27.75" fill="#4bac9f" /><line x1="278.15" y1="426.5" x2="295.65" y2="426.5" /></g>
<g><line x1="308.78" y1="375.75" x2="308.78" y2="403.25" /><line x1="304.4" y1="375.75" x2="313.15" y2="375.75" /><line x1="308.78" y1="435.75" x2="308.78" y2="469" /><line x1="304.4" y1="469" x2="313.15" y2="469" /><rect x="300.03" y="403.25" width="17.5" height="32.5" fill="#4babaa" /><line x1="300.03" y1="424" x2="317.53" y2="424" /></g>
<g><line x1="330.66" y1="384.5" x2="330.66" y2="395.75" /><line x1="326.28" y1="384.5" x2="335.03" y2="384.5" /><line x1="330.66" y1="433.25" x2="330.66" y2="459.25" /><line x1="326.28" y1="459.25" x2="335.03" y2="459.25" /><rect x="321.91" y="395.75" width="17.5" height="37.5" fill="#4eabb7" /><line x1="321.91" y1="418" x2="339.41" y2="418" /></g>
<g><line x1="352.53" y1="379.5" x2="352.53" y2="397.5" /><line x1="348.16" y1="379.5" x2="356.91" y2="379.5" /><line x1="352.53" y1="426.25" x2="352.53" y2="436.5" /><line x1="348.16" y1="436.5" x2="356.91" y2="436.5" /><rect x="343.78" y="397.5" width="17.5" height="28.75" fill="#51acc6" /><line x1="343.78" y1="416.25" x2="361.29" y2="416.25" /></g>
<g><line x1="374.41" y1="373.5" x2="374.41" y2="397" /><line x1="370.04" y1="373.5" x2="378.79" y2="373.5" /><line x1="374.41" y1="423.5" x2="374.41" y2="454.25" /><line x1="370.04" y1="454.25" x2="378.79" y2="454.25" /><rect x="365.66" y="397" width="17.5" height="26.5" fill="#56addd" /><line x1="365.66" y1="414.25" x2="383.16" y2="414.25" /><path d="M374.41 468L375.81 470L374.41 472L373.01 470Z" fill="#333" stroke="none"/></g>
<g><line x1="396.29" y1="376.25" x2="396.29" y2="392.9" /><line x1="391.92" y1="376.25" x2="400.67" y2="376.25" /><line x1="396.29" y1="442.25" x2="396.29" y2="468.25" /><line x1="391.92" y1="468.25" x2="400.67" y2="468.25" /><rect x="387.54" y="392.9" width="17.5" height="49.35" fill="#90aee7" /><line x1="387.54" y1="412.5" x2="405.04" y2="412.5" /></g>
<g><line x1="418.17" y1="403" x2="418.17" y2="405.25" /><line x1="413.79" y1="403" x2="422.55" y2="403" /><line x1="418.17" y1="435.75" x2="418.17" y2="456.75" /><line x1="413.79" y1="456.75" x2="422.55" y2="456.75" /><rect x="409.42" y="405.25" width="17.5" height="30.5" fill="#b0aaeb" /><line x1="409.42" y1="411" x2="426.92" y2="411" /></g>
<g><line x1="440.05" y1="382.25" x2="440.05" y2="388.75" /><line x1="435.67" y1="382.25" x2="444.42" y2="382.25" /><line x1="440.05" y1="413" x2="440.05" y2="447.25" /><line x1="435.67" y1="447.25" x2="444.42" y2="447.25" /><rect x="431.3" y="388.75" width="17.5" height="24.25" fill="#c6a0ea" /><line x1="431.3" y1="401.75" x2="448.8" y2="401.75" /></g>
<g><line x1="461.93" y1="373.25" x2="461.93" y2="384.75" /><line x1="457.55" y1="373.25" x2="466.3" y2="373.25" /><line x1="461.93" y1="448.5" x2="461.93" y2="453.75" /><line x1="457.55" y1="453.75" x2="466.3" y2="453.75" /><rect x="453.17" y="384.75" width="17.5" height="63.75" fill="#db92e8" /><line x1="453.17" y1="400.5" x2="470.68" y2="400.5" /></g>
<g><line x1="483.8" y1="395.75" x2="483.8" y2="396.25" /><line x1="479.43" y1="395.75" x2="488.18" y2="395.75" /><line x1="483.8" y1="412.5" x2="483.8" y2="429.25" /><line x1="479.43" y1="429.25" x2="488.18" y2="429.25" /><rect x="475.05" y="396.25" width="17.5" height="16.25" fill="#e78cda" /><line x1="475.05" y1="396.25" x2="492.56" y2="396.25" /></g>
<g><line x1="505.68" y1="374.2" x2="505.68" y2="379.7" /><line x1="501.31" y1="374.2" x2="510.06" y2="374.2" /><line x1="505.68" y1="423.5" x2="505.68" y2="460.75" /><line x1="501.31" y1="460.75" x2="510.06" y2="460.75" /><rect x="496.93" y="379.7" width="17.5" height="43.8" fill="#e890c7" /><line x1="496.93" y1="385.4" x2="514.43" y2="385.4" /></g>
<g><line x1="527.56" y1="374.1" x2="527.56" y2="376.8" /><line x1="523.19" y1="374.1" x2="531.94" y2="374.1" /><line x1="523.19" y1="383.5" x2="531.94" y2="383.5" /><rect x="518.81" y="376.8" width="17.5" height="6.7" fill="#e993b6" /><line x1="518.81" y1="376.8" x2="536.31" y2="376.8" /><path d="M527.56 396.4L528.96 398.4L527.56 400.4L526.16 398.4Z" fill="#333" stroke="none"/></g>
<rect x="35.3" y="368.6" width="503.2" height="108.9" fill="none" stroke="#7a7a7a" stroke-width="1.0"/>
<line x1="33.8" y1="473.2" x2="35.3" y2="473.2" stroke="#444" stroke-width="0.7"/>
<text x="31.2" y="474.76" class="yt" textLength="2.8" lengthAdjust="spacingAndGlyphs">0</text>
<line x1="33.8" y1="460.8" x2="35.3" y2="460.8" stroke="#444" stroke-width="0.7"/>
<text x="31.2" y="462.36" class="yt" textLength="5.6" lengthAdjust="spacingAndGlyphs">25</text>
<line x1="33.8" y1="448.4" x2="35.3" y2="448.4" stroke="#444" stroke-width="0.7"/>
<text x="31.2" y="449.96" class="yt" textLength="5.6" lengthAdjust="spacingAndGlyphs">50</text>
<line x1="33.8" y1="436" x2="35.3" y2="436" stroke="#444" stroke-width="0.7"/>
<text x="31.2" y="437.56" class="yt" textLength="5.6" lengthAdjust="spacingAndGlyphs">75</text>
<line x1="33.8" y1="423.6" x2="35.3" y2="423.6" stroke="#444" stroke-width="0.7"/>
<text x="31.2" y="425.16" class="yt" textLength="8.4" lengthAdjust="spacingAndGlyphs">100</text>
<line x1="33.8" y1="411.2" x2="35.3" y2="411.2" stroke="#444" stroke-width="0.7"/>
<text x="31.2" y="412.76" class="yt" textLength="8.4" lengthAdjust="spacingAndGlyphs">125</text>
<line x1="33.8" y1="398.8" x2="35.3" y2="398.8" stroke="#444" stroke-width="0.7"/>
<text x="31.2" y="400.36" class="yt" textLength="8.4" lengthAdjust="spacingAndGlyphs">150</text>
<line x1="33.8" y1="386.4" x2="35.3" y2="386.4" stroke="#444" stroke-width="0.7"/>
<text x="31.2" y="387.96" class="yt" textLength="8.4" lengthAdjust="spacingAndGlyphs">175</text>
<line x1="33.8" y1="374" x2="35.3" y2="374" stroke="#444" stroke-width="0.7"/>
<text x="31.2" y="375.56" class="yt" textLength="8.4" lengthAdjust="spacingAndGlyphs">200</text>
<line x1="46.24" y1="477.5" x2="46.24" y2="479.3" stroke="#444" stroke-width="0.7"/>
<text transform="translate(44.67 483.75) rotate(-45)" class="xl" textLength="29.25" lengthAdjust="spacingAndGlyphs">Metabolism</text>
<line x1="68.12" y1="477.5" x2="68.12" y2="479.3" stroke="#444" stroke-width="0.7"/>
<text transform="translate(66.55 483.75) rotate(-45)" class="xl" textLength="24.14" lengthAdjust="spacingAndGlyphs">Cell cycle</text>
<line x1="90" y1="477.5" x2="90" y2="479.3" stroke="#444" stroke-width="0.7"/>
<text transform="translate(88.42 483.75) rotate(-45)" class="xl" textLength="50.24" lengthAdjust="spacingAndGlyphs">ERK MAPK signaling</text>
<line x1="111.87" y1="477.5" x2="111.87" y2="479.3" stroke="#444" stroke-width="0.7"/>
<text transform="translate(110.3 483.75) rotate(-45)" class="xl" textLength="76.44" lengthAdjust="spacingAndGlyphs">Chromatin histone acetylation</text>
<line x1="133.75" y1="477.5" x2="133.75" y2="479.3" stroke="#444" stroke-width="0.7"/>
<text transform="translate(132.18 483.75) rotate(-45)" class="xl" textLength="78.69" lengthAdjust="spacingAndGlyphs">Chromatin histone methylation</text>
<line x1="155.63" y1="477.5" x2="155.63" y2="479.3" stroke="#444" stroke-width="0.7"/>
<text transform="translate(154.06 483.75) rotate(-45)" class="xl" textLength="17.51" lengthAdjust="spacingAndGlyphs">Mitosis</text>
<line x1="177.51" y1="477.5" x2="177.51" y2="479.3" stroke="#444" stroke-width="0.7"/>
<text transform="translate(175.94 483.75) rotate(-45)" class="xl" textLength="36.6" lengthAdjust="spacingAndGlyphs">Other, kinases</text>
<line x1="199.39" y1="477.5" x2="199.39" y2="479.3" stroke="#444" stroke-width="0.7"/>
<text transform="translate(197.81 483.75) rotate(-45)" class="xl" textLength="41.52" lengthAdjust="spacingAndGlyphs">Chromatin other</text>
<line x1="221.27" y1="477.5" x2="221.27" y2="479.3" stroke="#444" stroke-width="0.7"/>
<text transform="translate(219.69 483.75) rotate(-45)" class="xl" textLength="34.15" lengthAdjust="spacingAndGlyphs">ABL signaling</text>
<line x1="243.14" y1="477.5" x2="243.14" y2="479.3" stroke="#444" stroke-width="0.7"/>
<text transform="translate(241.57 483.75) rotate(-45)" class="xl" textLength="32.88" lengthAdjust="spacingAndGlyphs">Cytoskeleton</text>
<line x1="265.02" y1="477.5" x2="265.02" y2="479.3" stroke="#444" stroke-width="0.7"/>
<text transform="translate(263.45 483.75) rotate(-45)" class="xl" textLength="42.97" lengthAdjust="spacingAndGlyphs">Hormone-related</text>
<line x1="286.9" y1="477.5" x2="286.9" y2="479.3" stroke="#444" stroke-width="0.7"/>
<text transform="translate(285.33 483.75) rotate(-45)" class="xl" textLength="37.94" lengthAdjust="spacingAndGlyphs">EGFR signaling</text>
<line x1="308.78" y1="477.5" x2="308.78" y2="479.3" stroke="#444" stroke-width="0.7"/>
<text transform="translate(307.21 483.75) rotate(-45)" class="xl" textLength="33.96" lengthAdjust="spacingAndGlyphs">RTK signaling</text>
<line x1="330.66" y1="477.5" x2="330.66" y2="479.3" stroke="#444" stroke-width="0.7"/>
<text transform="translate(329.08 483.75) rotate(-45)" class="xl" textLength="52.04" lengthAdjust="spacingAndGlyphs">Apoptosis regulation</text>
<line x1="352.53" y1="477.5" x2="352.53" y2="479.3" stroke="#444" stroke-width="0.7"/>
<text transform="translate(350.96 483.75) rotate(-45)" class="xl" textLength="33.01" lengthAdjust="spacingAndGlyphs">p53 pathway</text>
<line x1="374.41" y1="477.5" x2="374.41" y2="479.3" stroke="#444" stroke-width="0.7"/>
<text transform="translate(372.84 483.75) rotate(-45)" class="xl" textLength="52.16" lengthAdjust="spacingAndGlyphs">PI3K/MTOR signaling</text>
<line x1="396.29" y1="477.5" x2="396.29" y2="479.3" stroke="#444" stroke-width="0.7"/>
<text transform="translate(394.72 483.75) rotate(-45)" class="xl" textLength="14.37" lengthAdjust="spacingAndGlyphs">Other</text>
<line x1="418.17" y1="477.5" x2="418.17" y2="479.3" stroke="#444" stroke-width="0.7"/>
<text transform="translate(416.6 483.75) rotate(-45)" class="xl" textLength="82.93" lengthAdjust="spacingAndGlyphs">Protein stability and degradation</text>
<line x1="440.05" y1="477.5" x2="440.05" y2="479.3" stroke="#444" stroke-width="0.7"/>
<text transform="translate(438.48 483.75) rotate(-45)" class="xl" textLength="44.36" lengthAdjust="spacingAndGlyphs">Genome integrity</text>
<line x1="461.93" y1="477.5" x2="461.93" y2="479.3" stroke="#444" stroke-width="0.7"/>
<text transform="translate(460.35 483.75) rotate(-45)" class="xl" textLength="39.44" lengthAdjust="spacingAndGlyphs">DNA replication</text>
<line x1="483.8" y1="477.5" x2="483.8" y2="479.3" stroke="#444" stroke-width="0.7"/>
<text transform="translate(482.23 483.75) rotate(-45)" class="xl" textLength="36.29" lengthAdjust="spacingAndGlyphs">WNT signaling</text>
<line x1="505.68" y1="477.5" x2="505.68" y2="479.3" stroke="#444" stroke-width="0.7"/>
<text transform="translate(504.11 483.75) rotate(-45)" class="xl" textLength="55.41" lengthAdjust="spacingAndGlyphs">JNK and p38 signaling</text>
<line x1="527.56" y1="477.5" x2="527.56" y2="479.3" stroke="#444" stroke-width="0.7"/>
<text transform="translate(525.99 483.75) rotate(-45)" class="xl" textLength="36.24" lengthAdjust="spacingAndGlyphs">IGFR signaling</text>
<text transform="translate(20.3 425.75) rotate(-90)" class="yl" textLength="46.66" lengthAdjust="spacingAndGlyphs">Rank (SCC)</text>
<text x="9.6" y="372.8" class="pl" style="stroke-width:0.4px" textLength="10.4" lengthAdjust="spacingAndGlyphs">(c)</text>
</g>
</svg>
</body></html>
